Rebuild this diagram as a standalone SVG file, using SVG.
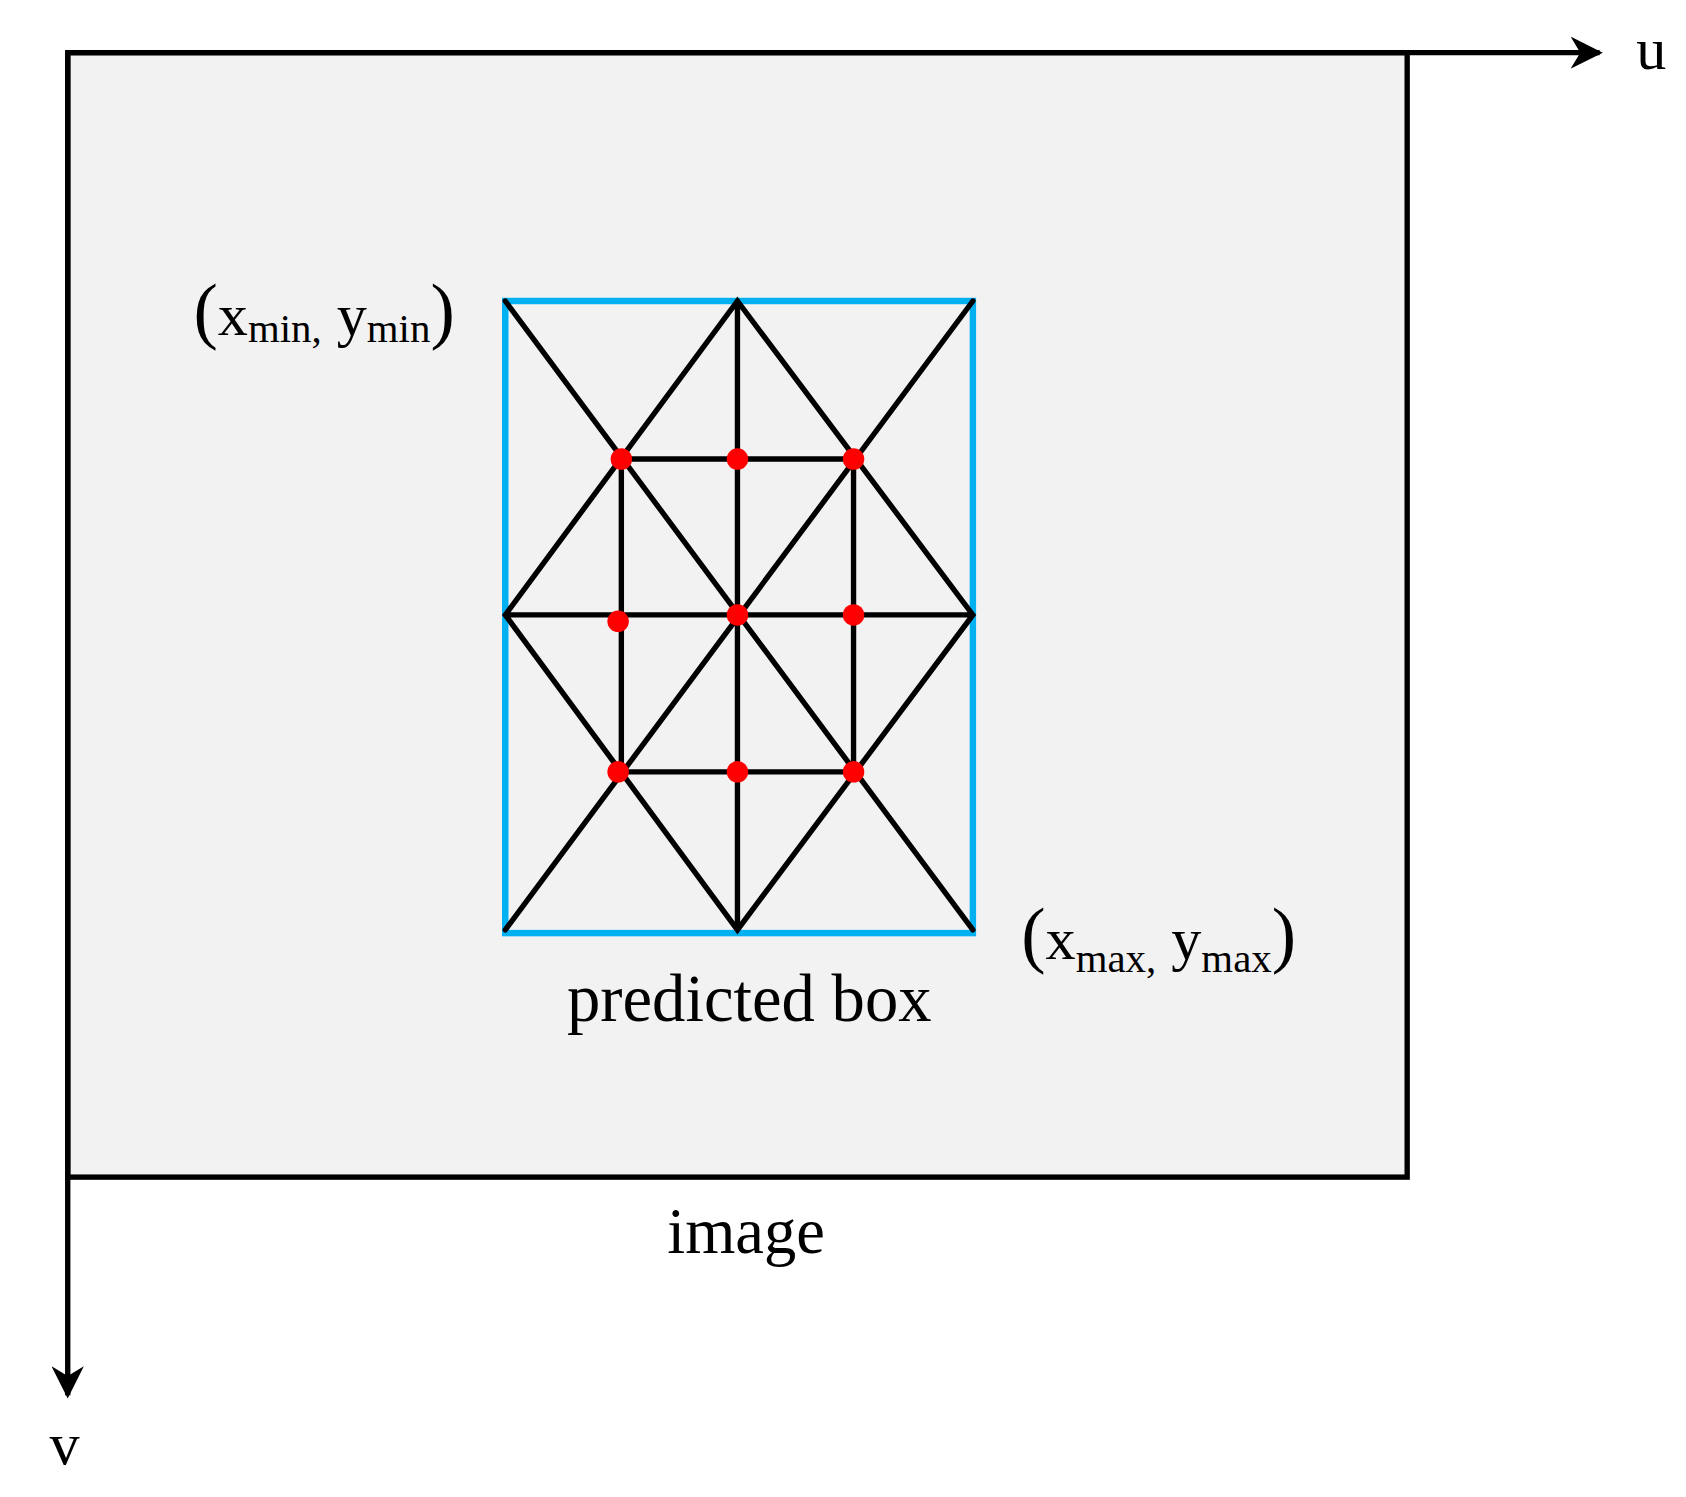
<svg xmlns="http://www.w3.org/2000/svg" width="1686" height="1497" viewBox="0 0 1686 1497">
<style>
.t{font-family:"Liberation Serif","Times New Roman",serif;fill:#000}
.k{stroke:#000;stroke-width:5;fill:none;stroke-linecap:round}
.d{fill:#ff0000}
</style>
<defs><marker id="ar" viewBox="0 0 10 10" refX="9" refY="5" markerWidth="6" markerHeight="6" markerUnits="strokeWidth" orient="auto"><path d="M0,0 L10,5 L0,10 L3,5 Z" fill="#000"/></marker></defs>
<rect width="1686" height="1497" fill="#fff"/>
<g transform="scale(1.075)">
<g id="image"><rect x="63" y="49" width="1246" height="1046" fill="#f2f2f2" stroke="#000" stroke-width="5"/>
<text class="t" x="694" y="1166" font-size="60" text-anchor="middle">image</text></g>
<g id="axes">
<path d="M63 49 H1488" stroke="#000" stroke-width="5" marker-end="url(#ar)"/>
<path d="M63 49 V1298" stroke="#000" stroke-width="5" marker-end="url(#ar)"/>
<text class="t" x="1522" y="64" font-size="56">u</text>
<text class="t" x="46" y="1362" font-size="56">v</text>
</g>
<g id="box">
<rect x="470" y="280" width="435" height="588" fill="none" stroke="#00b0f0" stroke-width="6"/>
<g class="k">
<path d="M470 280 L905 865 M905 280 L470 865 M686 280 L905 572 L686 865 L470 572 Z M686 280 V865 M578 427 V718 M794 427 V718 M578 427 H794 M470 572 H905 M575 718 H794"/>
</g>
<g>
<circle class="d" cx="578" cy="427" r="10"/><circle class="d" cx="686" cy="427" r="10"/><circle class="d" cx="794" cy="427" r="10"/>
<circle class="d" cx="575" cy="578" r="10"/><circle class="d" cx="686" cy="572" r="10"/><circle class="d" cx="794" cy="572" r="10"/>
<circle class="d" cx="575" cy="718" r="10"/><circle class="d" cx="686" cy="718" r="10"/><circle class="d" cx="794" cy="718" r="10"/>
</g>
<text class="t" x="697" y="950" font-size="62" text-anchor="middle">predicted box</text>
</g>
<g id="labels">
<text class="t" x="180" y="312" font-size="56"><tspan font-size="68">(</tspan>x<tspan font-size="38" dy="6">min,</tspan><tspan dy="-6"> y</tspan><tspan font-size="38" dy="6">min</tspan><tspan font-size="68" dy="-6">)</tspan></text>
<text class="t" x="950" y="892" font-size="56"><tspan font-size="68">(</tspan>x<tspan font-size="38" dy="12">max,</tspan><tspan dy="-12"> y</tspan><tspan font-size="38" dy="12">max</tspan><tspan font-size="68" dy="-12">)</tspan></text>
</g>
</g>
</svg>
